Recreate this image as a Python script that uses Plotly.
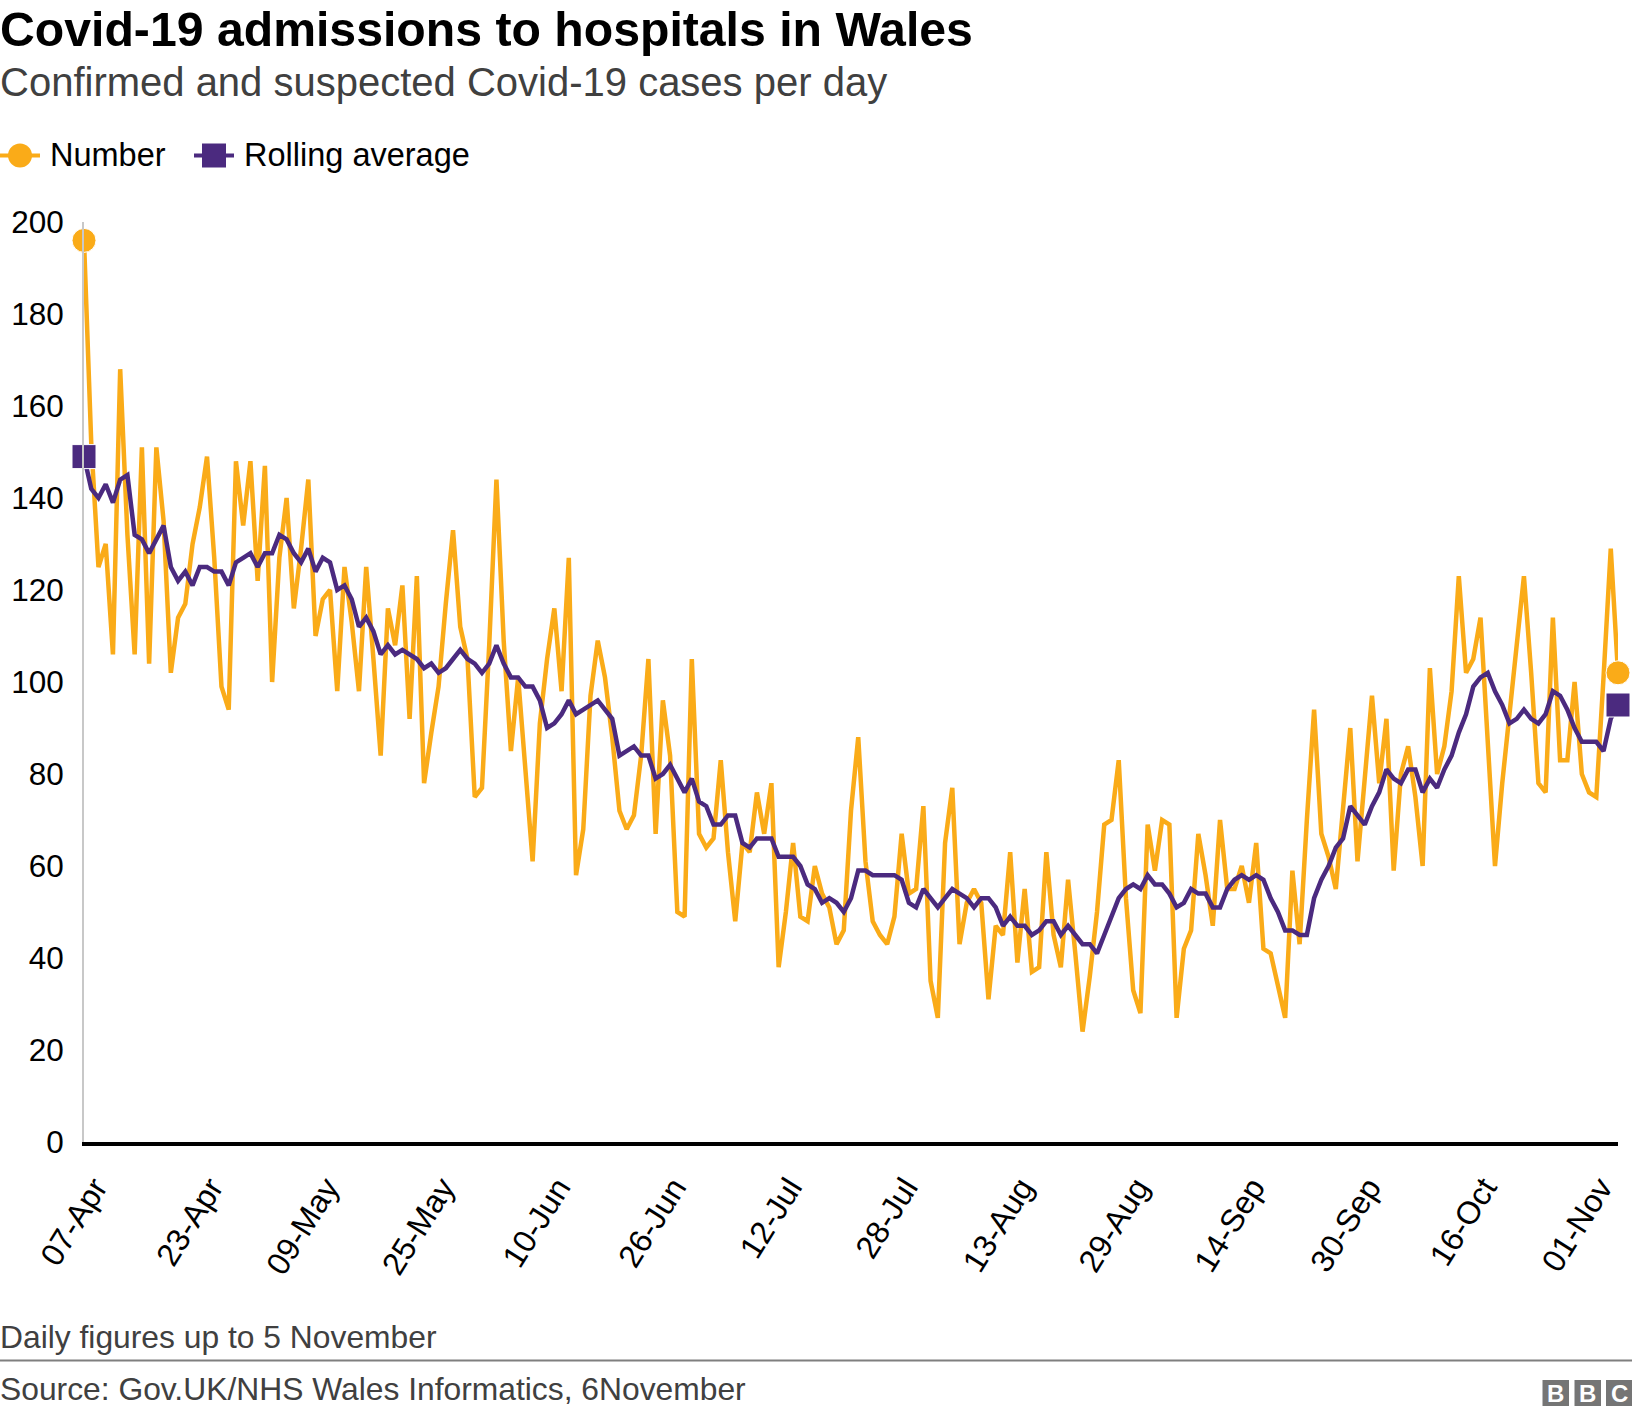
import pandas as pd
import plotly.graph_objects as go

# daily values, 07-Apr to 05-Nov
number = [196,152,125,130,106,168,132,106,151,104,151,135,102,114,117,130,138,149,127,99,94,148,134,148,122,147,100,127,140,116,
          129,144,110,118,120,98,125,113,98,125,105,84,116,108,121,92,123,78,89,99,117,133,112,105,75,77,108,144,109,85,
          101,80,61,91,105,116,98,127,58,68,97,109,101,88,72,68,71,84,105,67,96,84,50,49,105,67,64,66,83,63,
          48,65,63,76,67,78,38,50,65,49,48,60,54,51,43,46,72,88,61,48,45,43,49,67,54,55,73,35,27,65,
          77,43,52,55,52,31,47,45,63,39,55,37,38,63,45,38,57,41,24,36,50,69,70,83,53,33,28,69,59,70,
          69,27,42,46,67,58,47,70,55,55,60,52,65,42,41,34,27,59,43,70,94,67,62,55,72,90,61,78,97,78,
          92,59,80,86,75,60,103,80,86,98,123,102,105,114,87,60,78,93,107,123,102,78,76,114,83,83,100,80,76,75,
          101,129,102]
rolling = [149,142,140,143,139,144,145,132,131,128,131,134,125,122,124,121,125,125,124,124,121,126,127,128,125,128,128,132,131,128,
           126,129,124,127,126,120,121,118,112,114,111,106,108,106,107,106,105,103,104,102,103,105,107,105,104,102,104,108,104,101,
           101,99,99,96,90,91,93,96,93,94,95,96,94,92,84,85,86,84,84,79,80,82,79,76,79,74,73,69,69,71,
           71,65,64,66,66,66,62,62,62,60,56,55,52,53,52,50,53,59,59,58,58,58,58,57,52,51,55,53,51,53,
           55,54,53,51,53,53,51,47,49,47,47,45,46,48,48,45,47,45,43,43,41,45,49,53,55,56,55,58,56,56,
           54,51,52,55,54,54,51,51,55,57,58,57,58,57,53,50,46,46,45,45,53,57,60,64,66,73,71,69,73,76,
           81,79,78,81,81,76,79,77,81,84,89,93,99,101,102,98,95,91,92,94,92,91,93,98,97,94,90,87,87,87,
           85,92,95]
assert len(number) == len(rolling) == 213

dates = pd.date_range("2020-04-07", periods=len(number))
tick_labels = ["07-Apr", "23-Apr", "09-May", "25-May", "10-Jun", "26-Jun", "12-Jul",
               "28-Jul", "13-Aug", "29-Aug", "14-Sep", "30-Sep", "16-Oct", "01-Nov"]
tick_dates = dates[::16]
y_ticks = [0, 20, 40, 60, 80, 100, 120, 140, 160, 180, 200]

ORANGE = "#FAAB18"
PURPLE = "#4B2A7F"
GREY = "#404040"
FONT = "Liberation Sans"

# plot area in page pixels
LEFT, RIGHT, TOP, BOTTOM = 84, 1618, 222, 1142
W, H = 1632, 1416


def px(x):
    return (x - LEFT) / (RIGHT - LEFT)


def py(y):
    return (BOTTOM - y) / (BOTTOM - TOP)


def end_sizes(n):
    return [24] + [0] * (n - 2) + [24]


fig = go.Figure()
fig.add_trace(go.Scatter(x=dates, y=number, name="Number", mode="lines+markers",
                         line=dict(color=ORANGE, width=4.5),
                         marker=dict(color=ORANGE, symbol="circle", opacity=1, size=end_sizes(len(number))),
                         cliponaxis=False))
fig.add_trace(go.Scatter(x=dates, y=rolling, name="Rolling average", mode="lines+markers",
                         line=dict(color=PURPLE, width=4.5),
                         marker=dict(color=PURPLE, symbol="square", opacity=1, size=end_sizes(len(rolling))),
                         cliponaxis=False))


def text(x, y, s, size, color="#000000", bold=False, anchor="left"):
    fig.add_annotation(xref="paper", yref="paper", x=px(x), y=py(y), text=f"<b>{s}</b>" if bold else s,
                       showarrow=False, xanchor=anchor, yanchor="middle", borderpad=0,
                       font=dict(family=FONT, size=size, color=color))


def line(x0, y0, x1, y1, color, width):
    fig.add_shape(type="line", xref="paper", yref="paper", x0=px(x0), x1=px(x1), y0=py(y0), y1=py(y1),
                  line=dict(color=color, width=width))


def box(x0, y0, x1, y1, color):
    fig.add_shape(type="rect", xref="paper", yref="paper", x0=px(x0), x1=px(x1), y0=py(y0), y1=py(y1),
                  fillcolor=color, line=dict(width=0))


text(-1, 29, "Covid-19 admissions to hospitals in Wales", 48.2, bold=True)
text(-1, 82, "Confirmed and suspected Covid-19 cases per day", 40, color=GREY)

# legend keys, sized as in the picture
line(0, 155.5, 40, 155.5, ORANGE, 4)
fig.add_shape(type="circle", xref="paper", yref="paper", x0=px(8), x1=px(32), y0=py(143.5), y1=py(167.5),
              fillcolor=ORANGE, line=dict(width=0))
text(49, 155, "Number", 32.5)
line(194, 155.5, 234, 155.5, PURPLE, 4)
box(202, 143.5, 226, 167.5, PURPLE)
text(243, 155, "Rolling average", 32.5)

text(-1, 1337, "Daily figures up to 5 November", 31.8, color=GREY)
line(0, 1360.5, W, 1360.5, "#7F7F7F", 2)
text(-1, 1389, "Source: Gov.UK/NHS Wales Informatics, 6November", 31.8, color=GREY)

# BBC blocks
for x0, letter in [(1542.5, "B"), (1574.5, "B"), (1606, "C")]:
    box(x0, 1380, x0 + 26.5, 1406, "#757575")
    text(x0 + 13.25, 1393, letter, 24, color="#FFFFFF", bold=True, anchor="center")

fig.update_layout(width=W, height=H, margin=dict(l=LEFT, r=W - RIGHT, t=TOP, b=H - BOTTOM),
                  paper_bgcolor="white", plot_bgcolor="white", showlegend=False,
                  font=dict(family=FONT, color="#000000"))
fig.update_xaxes(range=[dates[0], dates[-1]], tickmode="array", tickvals=tick_dates, ticktext=tick_labels,
                 tickangle=-58, tickfont=dict(size=32), ticks="", ticklabelstandoff=10, ticklabelshift=11,
                 automargin=False, showgrid=False, zeroline=False, showline=True, linecolor="#000000", linewidth=4)
fig.update_yaxes(range=[0, 200], tickmode="array", tickvals=y_ticks, tickfont=dict(size=31.5),
                 ticks="", ticklabelstandoff=12, automargin=False, showgrid=False, zeroline=False,
                 showline=True, linecolor="#C8C8C8", linewidth=2)

fig.write_html("out.html", config={"displayModeBar": False}, post_script="document.body.style.margin='0'")
